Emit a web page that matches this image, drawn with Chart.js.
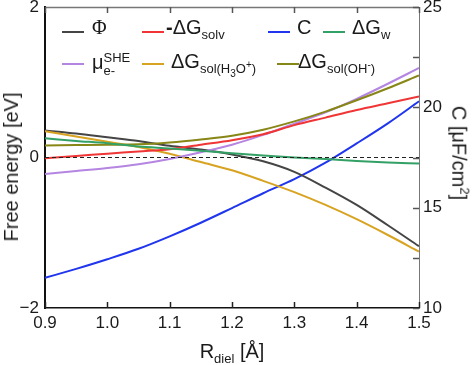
<!DOCTYPE html>
<html>
<head>
<meta charset="utf-8">
<script src="https://cdn.jsdelivr.net/npm/chart.js@4/dist/chart.umd.min.js"></script>
<style>
  body { margin: 0; background: #fff; }
  #wrap { position: relative; width: 474px; height: 365px; font-family: "Liberation Sans", Arial, sans-serif; color: #1a1a1a; }
  canvas { position: absolute; left: 0; top: 0; }
  .lbl { position: absolute; white-space: nowrap; font-size: 20px; line-height: 20px; }
  .ln { position: absolute; height: 2px; width: 22px; }
  .lbl sub, .lbl sup { font-size: 13px; line-height: 0; }
  .serif { font-family: "Liberation Serif", "DejaVu Serif", serif; }
  .stack { display: inline-block; vertical-align: -6px; line-height: 13px; font-size: 13px; }
  .stack span { display: block; }
  .title { position: absolute; white-space: nowrap; font-size: 20px; line-height: 20px; transform-origin: center; }
</style>
</head>
<body>
<div id="wrap">
  <canvas id="chart" width="474" height="365"></canvas>

  <!-- legend, drawn as html text so subscripts work -->
  <span class="ln" style="left:62px;top:31px;background:#454545"></span>
  <div class="lbl serif" style="left:92px;top:17px">&Phi;</div>
  <span class="ln" style="left:142px;top:31px;background:#ef3535"></span>
  <div class="lbl" style="left:166px;top:17px"><b>-</b>&Delta;G<sub>solv</sub></div>
  <span class="ln" style="left:268px;top:31px;background:#1f35ee"></span>
  <div class="lbl" style="left:297px;top:17px">C</div>
  <span class="ln" style="left:323px;top:31px;background:#33a066"></span>
  <div class="lbl" style="left:352px;top:17px">&Delta;G<sub>w</sub></div>

  <span class="ln" style="left:62px;top:63px;background:#b585e2"></span>
  <div class="lbl" style="left:92px;top:51px">&mu;<span class="stack"><span>SHE</span><span>e-</span></span></div>
  <span class="ln" style="left:142px;top:63px;background:#d8a321"></span>
  <div class="lbl" style="left:171px;top:51px">&Delta;G<sub>sol(H<sub style="font-size:10px">3</sub>O<sup style="font-size:10px">+</sup>)</sub></div>
  <span class="ln" style="left:277px;top:63px;background:#878616"></span>
  <div class="lbl" style="left:298px;top:51px">&Delta;G<sub>sol(OH<sup style="font-size:10px">-</sup>)</sub></div>

  <!-- axis titles -->
  <div class="title" style="left:232px;top:355px;transform:translate(-50%,-50%)">R<sub style="font-size:13px">diel</sub> [&Aring;]</div>
  <div class="title" style="left:11px;top:167px;transform:translate(-50%,-50%) rotate(-90deg)">Free energy [eV]</div>
  <div class="title" style="left:462px;top:153px;transform:translate(-50%,-50%) rotate(90deg)">C [&mu;F/cm<sup style="font-size:13px">2</sup>]</div>
</div>

<script>
// dielectric radius (x values)
const rDiel = [0.9, 0.95, 1.0, 1.05, 1.1, 1.15, 1.2, 1.25, 1.3, 1.35, 1.4, 1.45, 1.5];

// free energies in eV (left axis)
const phi      = [0.36, 0.32, 0.27, 0.22, 0.155, 0.105, 0.04, -0.05, -0.19, -0.40, -0.63, -0.90, -1.18];
const negGsolv = [-0.01, 0.02, 0.05, 0.08, 0.11, 0.17, 0.23, 0.31, 0.43, 0.53, 0.63, 0.72, 0.81];
const gWater   = [0.255, 0.22, 0.19, 0.145, 0.12, 0.09, 0.055, 0.025, 0.0, -0.02, -0.045, -0.065, -0.08];
const muSHE    = [-0.22, -0.18, -0.14, -0.09, -0.02, 0.07, 0.17, 0.30, 0.45, 0.60, 0.78, 0.98, 1.19];
const gSolH3O  = [0.35, 0.28, 0.21, 0.14, 0.05, -0.06, -0.17, -0.31, -0.46, -0.63, -0.82, -1.03, -1.25];
const gSolOH   = [0.16, 0.165, 0.17, 0.175, 0.2, 0.24, 0.29, 0.37, 0.48, 0.61, 0.76, 0.92, 1.09];

// capacitance in uF/cm2 (right axis)
const capC = [11.5, 11.95, 12.43, 12.95, 13.57, 14.25, 14.98, 15.72, 16.42, 17.24, 18.2, 19.2, 20.3];

// zero reference line
const zeroX = [0.9, 1.5];
const zeroY = [0, 0];

const xTicks = { min: 0.9, max: 1.5, step: 0.1 };
const leftTicks = { min: -2, max: 2, step: 2 };
const rightTicks = { min: 10, max: 25, step: 2.5 };

function pts(xs, ys) {
  return xs.map((x, i) => ({ x: x, y: ys[i] }));
}

function series(data, color, axis) {
  return {
    data: pts(rDiel, data),
    borderColor: color,
    borderWidth: 2,
    pointRadius: 0,
    cubicInterpolationMode: 'monotone',
    yAxisID: axis || 'y'
  };
}

// small tick marks pointing into the plot, plus the grey top frame
const innerTicks = {
  id: 'innerTicks',
  afterDatasetsDraw(chart) {
    const ctx = chart.ctx;
    const a = chart.chartArea;
    const len = 6;
    ctx.save();
    ctx.lineWidth = 1.5;
    ctx.setLineDash([]);

    ctx.strokeStyle = '#777';
    ctx.beginPath();
    ctx.moveTo(a.left, a.top + 0.5);
    ctx.lineTo(a.right, a.top + 0.5);
    ctx.stroke();

    const xs = chart.scales.x;
    xs.ticks.forEach(t => {
      const px = Math.round(xs.getPixelForValue(t.value)) + 0.5;
      ctx.strokeStyle = '#222';
      ctx.beginPath();
      ctx.moveTo(px, a.bottom);
      ctx.lineTo(px, a.bottom - len);
      ctx.stroke();
      ctx.strokeStyle = '#555';
      ctx.beginPath();
      ctx.moveTo(px, a.top);
      ctx.lineTo(px, a.top + len);
      ctx.stroke();
    });

    const ys = chart.scales.y1;
    ctx.strokeStyle = '#555';
    ys.ticks.forEach(t => {
      const py = Math.round(ys.getPixelForValue(t.value)) + 0.5;
      ctx.beginPath();
      ctx.moveTo(a.right, py);
      ctx.lineTo(a.right - len, py);
      ctx.stroke();
    });
    ctx.restore();
  }
};

const tickFont = { family: '"Liberation Sans", Arial, sans-serif', size: 17 };

const ctx = document.getElementById('chart').getContext('2d');
const chart = new Chart(ctx, {
  type: 'line',
  data: {
    datasets: [
      {
        data: pts(zeroX, zeroY),
        borderColor: '#222',
        borderWidth: 1,
        borderDash: [4, 3],
        pointRadius: 0,
        yAxisID: 'y'
      },
      series(gWater, '#33a066'),
      series(negGsolv, '#ef3535'),
      series(gSolOH, '#878616'),
      series(muSHE, '#b585e2'),
      series(gSolH3O, '#d8a321'),
      series(phi, '#454545'),
      series(capC, '#1f35ee', 'y1')
    ]
  },
  options: {
    responsive: false,
    animation: false,
    devicePixelRatio: 1,
    layout: { padding: { top: 7, left: 0, right: 0, bottom: 0 } },
    plugins: { legend: { display: false }, tooltip: { enabled: false } },
    scales: {
      x: {
        type: 'linear',
        min: xTicks.min,
        max: xTicks.max,
        border: { color: '#111', width: 1.5 },
        grid: { drawOnChartArea: false, drawTicks: false },
        ticks: {
          stepSize: xTicks.step,
          padding: 5,
          color: '#1a1a1a',
          font: tickFont,
          maxRotation: 0,
          callback: v => Number(v).toFixed(1)
        },
        afterFit(s) { s.height = 57; s.paddingLeft = 0; s.paddingRight = 0; }
      },
      y: {
        position: 'left',
        min: leftTicks.min,
        max: leftTicks.max,
        border: { color: '#111', width: 2 },
        grid: { drawOnChartArea: false, drawTicks: false },
        ticks: {
          stepSize: leftTicks.step,
          padding: 6,
          color: '#1a1a1a',
          font: tickFont,
          callback: v => String(v).replace('-', '\u2212')
        },
        afterFit(s) { s.width = 45; s.paddingTop = 0; s.paddingBottom = 0; }
      },
      y1: {
        position: 'right',
        min: rightTicks.min,
        max: rightTicks.max,
        border: { color: '#777', width: 1 },
        grid: { drawOnChartArea: false, drawTicks: false },
        ticks: {
          stepSize: rightTicks.step,
          padding: 4,
          color: '#1a1a1a',
          font: tickFont,
          callback: v => (v % 5 === 0 ? String(v) : '')
        },
        afterFit(s) { s.width = 55; s.paddingTop = 0; s.paddingBottom = 0; }
      }
    }
  },
  plugins: [innerTicks]
});
</script>
</body>
</html>
